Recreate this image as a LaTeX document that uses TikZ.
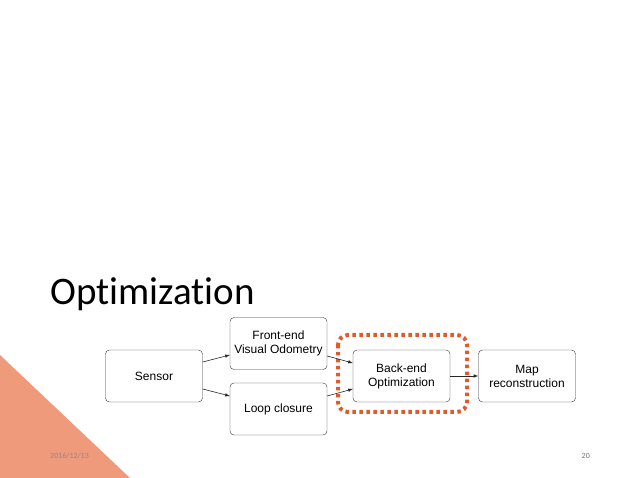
\documentclass[tikz,border=0pt]{standalone}
\usepackage{fontspec}
\setmainfont{Liberation Sans}
\newfontfamily\calfont[RawFeature=-liga]{Carlito}
\definecolor{tri}{HTML}{EE9A7B}
\definecolor{hl}{HTML}{E05A2B}
\begin{document}
\begin{tikzpicture}[x=1pt,y=-1pt,
  blk/.style={draw=black!80,rounded corners=4pt,minimum width=97pt,minimum height=52pt,align=center,font=\fontsize{12}{14}\selectfont,inner sep=1pt},
  arr/.style={-latex,black!85,line width=0.6pt}]
\useasboundingbox (0,0) rectangle (638,478);
\fill[tri] (0,355) -- (130,478) -- (0,478) -- cycle;
\node[anchor=base west,inner sep=0,font=\calfont\fontsize{39}{44}\selectfont] (title) at (50,305) {Optimization};
\node[blk] (sensor) at (154,376) {Sensor};
\node[blk] (front) at (278.5,343.5) {Front-end\\Visual Odometry};
\node[blk] (loop) at (278.5,409) {Loop closure};
\node[blk] (back) at (401.5,376) {Back-end\\Optimization};
\node[blk] (map) at (527,376) {Map\\reconstruction};
\draw[hl,line width=4pt,dash pattern=on 3.5pt off 3.5pt,rounded corners=10pt] (338,335) rectangle (467,412);
\draw[arr] (sensor.east|-0,362) -- (front.west|-0,355);
\draw[arr] (sensor.east|-0,389) -- (loop.west|-0,396);
\draw[arr] (front.east|-0,356) -- (back.west|-0,363);
\draw[arr] (loop.east|-0,396) -- (back.west|-0,389);
\draw[arr] (back) -- (map);
\node[anchor=base west,inner sep=0,font=\calfont\fontsize{8}{9}\selectfont,text=black!45] (date) at (50,459) {2016/12/13};
\node[anchor=base east,inner sep=0,font=\calfont\fontsize{8}{9}\selectfont,text=black!55] (page) at (590,459) {20};
\end{tikzpicture}
\end{document}
